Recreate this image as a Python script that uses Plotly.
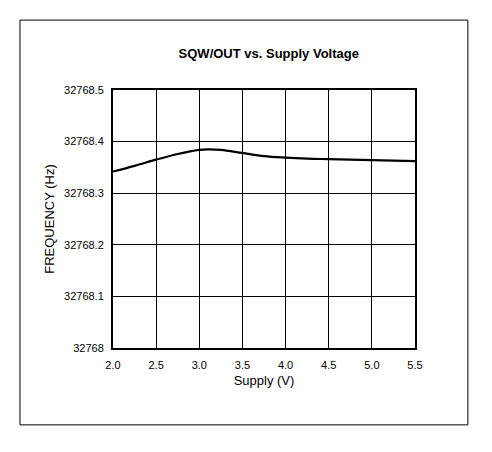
import plotly.graph_objects as go

# supply voltage (V) and measured frequency (Hz)
supply = [2.0, 2.25, 2.5, 2.75, 3.0, 3.1, 3.25, 3.5, 3.75, 4.0, 4.25, 4.5, 4.75, 5.0, 5.25, 5.5]
freq = [32768.342, 32768.353, 32768.365, 32768.376, 32768.384, 32768.385, 32768.384, 32768.378,
        32768.372, 32768.369, 32768.367, 32768.366, 32768.365, 32768.364, 32768.363, 32768.362]

x_ticks = [2.0, 2.5, 3.0, 3.5, 4.0, 4.5, 5.0, 5.5]
y_ticks = [32768.0, 32768.1, 32768.2, 32768.3, 32768.4, 32768.5]
y_labels = ["32768", "32768.1", "32768.2", "32768.3", "32768.4", "32768.5"]

fig = go.Figure(go.Scatter(x=supply, y=freq, mode="lines", line=dict(color="black", width=2.2, shape="spline")))

font = dict(family="Liberation Sans, Arial", size=11, color="black")
fig.update_layout(
    width=492, height=452,
    margin=dict(l=105, r=85, t=82, b=112),
    paper_bgcolor="white", plot_bgcolor="white",
    showlegend=False,
    font=font,
    title=dict(text="<b>SQW/OUT vs. Supply Voltage</b>", x=0.53, xanchor="center", y=0.9, yanchor="middle",
               font=dict(family="Liberation Sans, Arial", size=13, color="black")),
    shapes=[dict(type="rect", xref="paper", yref="paper", x0=-0.308, x1=1.175, y0=-0.298, y1=1.271,
                 line=dict(color="black", width=1))],
)
fig.update_xaxes(range=[2.0, 5.5], tickvals=x_ticks, ticktext=[f"{v:.1f}" for v in x_ticks],
                 showgrid=True, gridcolor="black", gridwidth=1, showline=True, linecolor="black",
                 linewidth=2, mirror=True, ticks="outside", ticklen=6, tickcolor="white",
                 title=dict(text="Supply (V)", standoff=6), zeroline=False)
fig.update_yaxes(range=[32768.0, 32768.5], tickvals=y_ticks, ticktext=y_labels,
                 showgrid=True, gridcolor="black", gridwidth=1, showline=True, linecolor="black",
                 linewidth=2, mirror=True, ticks="outside", ticklen=5, tickcolor="white",
                 title=dict(text="FREQUENCY (Hz)", standoff=6), zeroline=False)

fig.write_html("out.html")
